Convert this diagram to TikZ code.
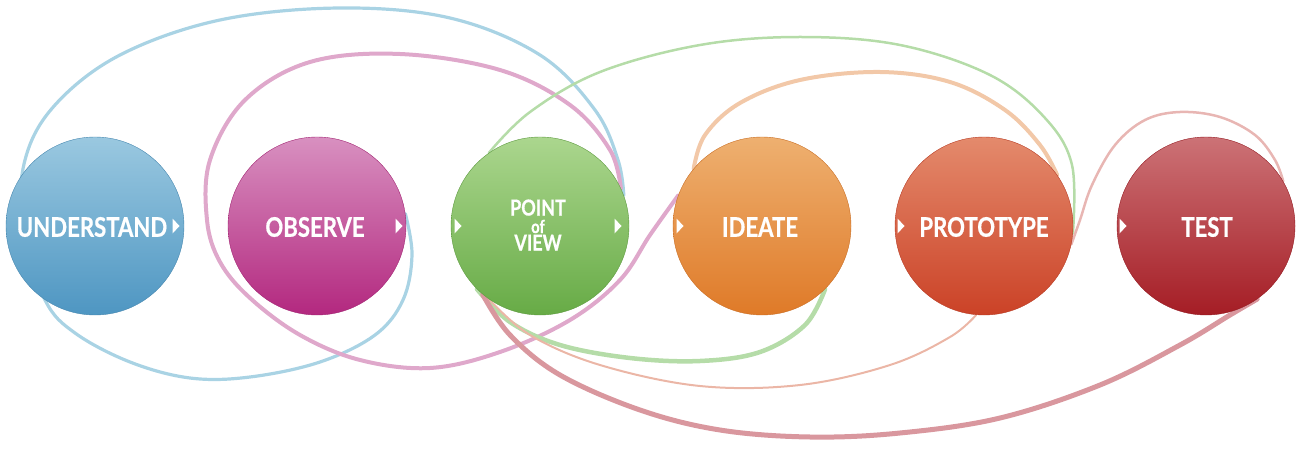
\documentclass[tikz,border=0pt]{standalone}
\usepackage{fontspec}
\newfontfamily\stagefont{Lato}[FakeStretch=0.82, BoldFeatures={FakeBold=0.6}]
\usetikzlibrary{backgrounds}
\newcommand\tightlines{\lineskiplimit=-50pt\relax}

\definecolor{undTop}{HTML}{9AC8E0}
\definecolor{undBot}{HTML}{4E96C2}
\definecolor{obsTop}{HTML}{D890C0}
\definecolor{obsBot}{HTML}{B3287F}
\definecolor{povTop}{HTML}{ABD68E}
\definecolor{povBot}{HTML}{67AB46}
\definecolor{ideTop}{HTML}{EEB070}
\definecolor{ideBot}{HTML}{DF7A28}
\definecolor{proTop}{HTML}{E48A6C}
\definecolor{proBot}{HTML}{CB4227}
\definecolor{tesTop}{HTML}{CC7276}
\definecolor{tesBot}{HTML}{A51D25}

\definecolor{swBlue}{HTML}{A9D3E4}
\definecolor{swPink}{HTML}{DFA8CB}
\definecolor{swGreen}{HTML}{B5DCA8}
\definecolor{swOrange}{HTML}{F2C8A8}
\definecolor{swSalmon}{HTML}{EBB6A6}
\definecolor{swRose}{HTML}{D9979E}
\definecolor{swRed}{HTML}{E8B6B3}

\begin{document}
\begin{tikzpicture}[x=1pt,y=-1pt,
  stage/.style={circle, minimum size=178pt, inner sep=0pt, text=white,
    shading angle=15, draw=#1Bot!90!black, line width=0.4pt,
    top color=#1Top, bottom color=#1Bot},
  label/.style={text=white, font=\stagefont\bfseries\fontsize{27}{20}\selectfont},
  swirl/.style={line cap=round, line join=round}]

\useasboundingbox (0,0) rectangle (1300,449);

% the six stages
\node[stage=und] (u) at (95,226) {};
\node[stage=obs] (o) at (317,226) {};
\node[stage=pov] (p) at (540,226) {};
\node[stage=ide] (i) at (762,226) {};
\node[stage=pro] (proto) at (984,226) {};
\node[stage=tes] (test) at (1206,226) {};

\node[label] (lu) at (92,227) {UNDERSTAND};
\node[label] (lo) at (315,227) {OBSERVE};
\node[label, align=center,
  font=\stagefont\bfseries\fontsize{22}{17.5}\selectfont\tightlines] (lp) at (538,225)
  {POINT\\{\fontsize{18}{17.5}\selectfont of}\\VIEW};
\node[label] (li) at (760,227) {IDEATE};
\node[label] (lpr) at (984,227) {PROTOTYPE};
\node[label] (lt) at (1207,227) {TEST};

% little arrow heads
\foreach \c/\dx in {u/81,o/82,p/-82,p/78,i/-82,proto/-83,test/-83}
  \fill[white] ([xshift=\dx pt-3.5pt, yshift=7.5pt]\c.center) -- ++(7,7.5) -- ++(-7,7.5) -- cycle;

\begin{scope}[on background layer]
%\draw[red] (0,0) grid[step=50] (1300,449);
\draw[swirl, swBlue, line width=3.2pt] plot[smooth, tension=0.6] coordinates {
  (o.8) (412,255) (403,300) (375,335) (320,362) (250,377) (190,378)
  (130,362) (75,333) (45,300) (22,230) (25,160) (55,105) (120,55)
  (220,20) (340,8) (450,18) (540,55) (595,110) (618,160) (p.20)};
\draw[swirl, swPink, line width=4pt] plot[smooth, tension=0.6] coordinates {
  (p.25) (610,150) (570,105) (500,70) (400,54) (310,62) (245,100)
  (210,160) (207,220) (220,262) (250,298) (300,335) (360,360) (430,368)
  (500,352) (570,320) (620,280) (650,235) (i.160)};
\draw[swirl, swGreen, line width=2.5pt] plot[smooth, tension=0.6] coordinates {
  (p.125) (530,112) (600,72) (700,45) (800,37) (900,45) (990,75)
  (1045,118) (1072,165) (proto.-5)};
\draw[swirl, swGreen, line width=4.5pt] plot[smooth, tension=0.6] coordinates {
  (p.225) (510,322) (560,345) (630,358) (700,361) (760,352) (805,325) (i.-45)};
\draw[swirl, swOrange, line width=4pt] plot[smooth, tension=0.6] coordinates {
  (i.140) (705,135) (740,103) (800,80) (880,72) (950,82) (1005,110)
  (1040,145) (proto.35)};
\draw[swirl, swSalmon, line width=2pt] plot[smooth, tension=0.6] coordinates {
  (p.235) (530,335) (600,365) (700,386) (800,385) (890,365) (950,337) (proto.-95)};
\draw[swirl, swRose, line width=5pt] plot[smooth, tension=0.6] coordinates {
  (p.230) (510,335) (560,375) (640,410) (720,430) (810,437) (900,433)
  (1000,418) (1100,385) (1180,345) (1230,315) (test.-55)};
\draw[swirl, swRed, line width=2.5pt] plot[smooth, tension=0.6] coordinates {
  (proto.-12) (1080,220) (1092,185) (1115,145) (1145,120) (1180,112)
  (1220,117) (1255,135) (1275,160) (test.30)};
\end{scope}

\end{tikzpicture}
\end{document}
